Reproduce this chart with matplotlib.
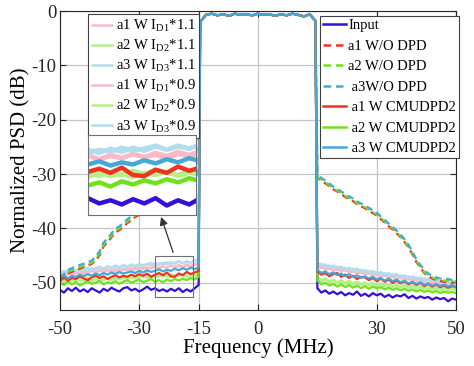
import matplotlib
matplotlib.use("Agg")
import matplotlib.pyplot as plt
from matplotlib.patches import Rectangle
from matplotlib.lines import Line2D
import numpy as np

plt.rcParams['font.family'] = ['Liberation Serif', 'DejaVu Serif']
plt.rcParams['mathtext.fontset'] = 'custom'
plt.rcParams['mathtext.rm'] = 'Liberation Serif'
plt.rcParams['mathtext.it'] = 'Liberation Serif'
plt.rcParams['axes.unicode_minus'] = False

# in-band (shared by all traces), dB
inband = [-2.0, -0.7, -0.5, -0.8, -0.6, -0.9, -0.5, -0.7, -0.6, -0.8,
          -0.5, -0.7, -0.6, -0.9, -0.6, -0.8, -0.5, -0.7, -1.0, -0.6, -1.8]

# left side, -50 ... -15 MHz (1 MHz steps)
input_l = [-51.3, -51.8, -51.0, -51.5, -50.9, -51.6, -51.2, -51.7, -51.0, -51.4,
           -51.8, -51.1, -51.5, -50.9, -51.3, -51.6, -51.0, -50.8, -51.4, -51.1,
           -51.6, -51.2, -50.7, -51.3, -51.0, -51.5, -51.2, -51.6, -51.1, -51.5,
           -51.0, -51.7, -51.2, -51.6, -51.0, -50.4]
a2_l = [-50.0, -50.4, -49.8, -50.3, -49.9, -50.5, -50.1, -49.7, -50.2, -50.0,
        -49.6, -50.3, -49.9, -50.1, -49.7, -50.2, -49.8, -49.5, -50.0, -49.7,
        -49.4, -49.9, -49.6, -49.3, -49.8, -49.5, -49.9, -49.4, -49.7, -49.3,
        -49.6, -49.2, -49.5, -49.1, -49.4, -48.9]
a2_11_l = [-49.5, -49.8, -49.2, -49.6, -49.3, -49.7, -49.4, -49.0, -49.5, -49.2,
           -49.6, -49.1, -49.4, -49.0, -49.3, -48.9, -49.2, -48.8, -49.1, -48.9,
           -48.6, -49.0, -48.7, -49.1, -48.6, -48.9, -48.5, -48.8, -48.4, -48.7,
           -48.3, -48.6, -48.8, -48.4, -48.6, -48.2]
a2_09_l = [-49.8, -49.4, -49.9, -49.5, -49.7, -49.2, -49.6, -49.3, -49.8, -49.4,
           -49.1, -49.5, -49.2, -49.6, -49.1, -49.4, -49.0, -49.3, -48.9, -49.2,
           -49.0, -48.7, -49.1, -48.8, -49.0, -48.6, -48.9, -48.7, -49.0, -48.6,
           -48.8, -48.5, -48.9, -48.6, -48.8, -48.4]
a1_l = [-49.4, -49.0, -49.6, -49.1, -49.3, -48.8, -49.2, -49.5, -49.0, -48.7,
        -49.1, -48.8, -49.3, -48.9, -48.6, -49.0, -48.7, -48.9, -48.5, -48.8,
        -48.4, -48.7, -48.3, -48.9, -48.5, -48.2, -48.6, -48.1, -48.8, -48.9,
        -48.3, -48.6, -48.0, -48.4, -48.1, -47.8]
a3_l = [-49.0, -48.6, -49.2, -48.7, -48.9, -48.5, -48.8, -48.4, -48.7, -48.3,
        -48.6, -48.2, -48.5, -48.1, -48.4, -48.0, -48.3, -48.1, -47.9, -48.2,
        -47.8, -48.1, -47.7, -48.0, -47.8, -47.5, -47.9, -47.6, -47.8, -47.4,
        -47.7, -47.3, -47.6, -47.2, -47.5, -47.1]
a1_11_l = [-48.3, -48.7, -48.1, -48.5, -48.0, -48.4, -47.9, -48.2, -47.8, -48.1,
           -47.7, -48.0, -47.6, -47.9, -47.5, -47.8, -47.4, -47.7, -47.3, -47.6,
           -47.2, -47.5, -47.1, -47.4, -47.0, -47.3, -46.9, -47.2, -46.8, -47.1,
           -46.7, -47.0, -46.6, -46.9, -46.5, -46.4]
a1_09_l = [-48.6, -48.2, -48.5, -48.0, -48.3, -47.9, -48.4, -48.0, -47.7, -48.1,
           -47.8, -47.5, -47.9, -47.6, -48.0, -47.5, -47.7, -47.3, -47.6, -47.2,
           -47.5, -47.1, -47.4, -47.2, -46.9, -47.3, -47.0, -47.2, -46.8, -47.1,
           -46.9, -47.2, -46.8, -47.0, -46.7, -46.5]
a3_11_l = [-47.9, -48.3, -47.7, -48.1, -47.6, -47.9, -47.4, -47.8, -47.3, -47.6,
           -47.2, -47.5, -47.1, -47.4, -47.0, -47.3, -46.9, -47.2, -46.8, -47.0,
           -46.7, -46.9, -46.5, -46.8, -46.4, -46.7, -46.3, -46.6, -46.2, -46.5,
           -46.1, -46.4, -46.0, -46.3, -45.9, -45.8]
a3_09_l = [-48.2, -47.8, -48.0, -47.5, -47.9, -47.4, -47.7, -47.2, -47.6, -47.3,
           -47.0, -47.4, -46.9, -47.2, -46.8, -47.1, -46.7, -47.0, -46.6, -46.9,
           -46.5, -46.8, -46.6, -46.3, -46.7, -46.4, -46.6, -46.2, -46.5, -46.3,
           -46.0, -46.4, -46.1, -46.3, -45.9, -45.9]
wo1_l = [-49.7, -49.0, -48.3, -48.0, -47.6, -47.4, -47.1, -46.9, -46.5, -45.9,
         -44.9, -43.3, -42.5, -41.6, -40.7, -40.3, -39.7, -39.0, -38.5, -37.9,
         -37.5, -37.0, -36.5, -36.0, -35.5, -35.0, -34.5, -34.1, -33.6, -33.1,
         -32.7, -32.2, -31.8, -31.4, -31.1, -30.7]
wo2_l = [-49.4, -48.8, -48.0, -47.7, -47.4, -47.1, -46.9, -46.6, -46.3, -45.6,
         -44.6, -43.0, -42.2, -41.3, -40.4, -40.0, -39.4, -38.7, -38.2, -37.6,
         -37.2, -36.7, -36.2, -35.7, -35.2, -34.7, -34.2, -33.8, -33.3, -32.8,
         -32.4, -31.9, -31.5, -31.1, -30.8, -30.4]
wo3_l = [-49.0, -48.4, -47.6, -47.3, -47.0, -46.7, -46.5, -46.2, -45.9, -45.2,
         -44.2, -42.6, -41.8, -40.9, -40.0, -39.6, -39.0, -38.3, -37.8, -37.2,
         -36.8, -36.3, -35.8, -35.3, -34.8, -34.3, -33.8, -33.4, -32.9, -32.4,
         -32.0, -31.5, -31.1, -30.7, -30.4, -30.1]

# right side, 15 ... 50 MHz (1 MHz steps)
input_r = [-51.0, -51.8, -51.4, -52.0, -51.6, -52.1, -51.7, -52.3, -51.9, -52.2,
           -51.6, -52.4, -52.0, -52.5, -51.9, -52.3, -52.0, -52.6, -52.2, -52.7,
           -52.3, -52.5, -52.1, -52.8, -52.4, -52.9, -52.5, -52.8, -52.6, -53.1,
           -52.7, -53.0, -52.8, -53.4, -52.9, -53.1]
a2_r = [-49.6, -50.3, -50.0, -50.5, -50.2, -50.7, -50.3, -50.8, -50.4, -50.9,
        -50.5, -51.0, -50.6, -51.1, -50.7, -51.0, -50.8, -51.2, -50.9, -51.3,
        -51.0, -51.4, -51.1, -51.5, -51.2, -51.6, -51.3, -51.7, -51.4, -51.8,
        -51.5, -51.9, -51.6, -51.8, -51.7, -51.9]
a2_11_r = [-49.0, -49.5, -49.2, -49.7, -49.4, -49.9, -49.5, -50.0, -49.6, -50.1,
           -49.8, -50.2, -49.9, -50.3, -50.0, -50.4, -50.1, -50.5, -50.2, -50.6,
           -50.3, -50.7, -50.4, -50.8, -50.5, -50.9, -50.6, -51.0, -50.7, -51.1,
           -50.8, -51.2, -50.9, -51.1, -51.0, -51.2]
a2_09_r = [-49.3, -49.8, -49.4, -49.9, -49.6, -50.1, -49.7, -50.2, -49.9, -50.3,
           -50.0, -50.4, -50.1, -50.5, -50.2, -50.6, -50.3, -50.7, -50.4, -50.8,
           -50.5, -50.9, -50.6, -51.0, -50.7, -51.1, -50.8, -51.2, -50.9, -51.3,
           -51.0, -51.4, -51.1, -51.3, -51.2, -51.4]
a1_r = [-47.9, -48.5, -48.2, -48.8, -48.4, -48.2, -48.9, -48.5, -49.1, -48.7,
        -49.3, -48.9, -49.0, -49.5, -49.1, -49.7, -49.2, -49.8, -49.4, -50.0,
        -49.6, -50.1, -49.7, -50.3, -49.9, -50.4, -50.0, -50.6, -50.2, -50.7,
        -50.3, -50.8, -50.5, -50.9, -50.6, -50.8]
a3_r = [-47.6, -48.2, -47.9, -48.4, -48.1, -48.6, -48.3, -48.8, -48.4, -48.9,
        -48.6, -49.1, -48.8, -49.2, -48.9, -49.4, -49.1, -49.6, -49.2, -49.7,
        -49.4, -49.9, -49.6, -50.1, -49.8, -50.2, -49.9, -50.4, -50.1, -50.5,
        -50.2, -50.6, -50.3, -50.7, -50.4, -50.8]
a1_11_r = [-46.8, -47.3, -47.0, -47.5, -47.2, -47.7, -47.3, -47.8, -47.5, -48.0,
           -47.7, -48.2, -47.9, -48.4, -48.1, -48.6, -48.3, -48.8, -48.5, -49.0,
           -48.7, -49.2, -48.9, -49.4, -49.1, -49.6, -49.3, -49.8, -49.5, -50.0,
           -49.7, -50.2, -49.9, -50.3, -50.1, -50.4]
a1_09_r = [-47.1, -47.0, -47.6, -47.3, -47.8, -47.4, -47.9, -47.6, -48.1, -47.8,
           -48.3, -48.0, -48.5, -48.2, -48.7, -48.4, -48.9, -48.6, -49.1, -48.8,
           -49.3, -49.0, -49.5, -49.2, -49.7, -49.4, -49.9, -49.6, -50.1, -49.8,
           -50.3, -50.0, -50.4, -50.2, -50.5, -50.5]
a3_11_r = [-46.3, -46.9, -46.6, -47.1, -46.8, -47.3, -47.0, -47.5, -47.2, -47.7,
           -47.4, -47.9, -47.6, -48.1, -47.8, -48.3, -48.0, -48.5, -48.2, -48.7,
           -48.4, -48.9, -48.6, -49.1, -48.8, -49.3, -49.0, -49.5, -49.2, -49.7,
           -49.4, -49.9, -49.6, -50.1, -49.9, -50.4]
a3_09_r = [-46.6, -46.5, -47.0, -46.8, -47.2, -47.0, -47.4, -47.2, -47.6, -47.4,
           -47.8, -47.6, -48.0, -47.8, -48.2, -48.0, -48.4, -48.2, -48.6, -48.4,
           -48.8, -48.6, -49.0, -48.8, -49.2, -49.0, -49.4, -49.2, -49.6, -49.4,
           -49.8, -49.6, -50.0, -49.9, -50.2, -50.3]
wo1_r = [-30.7, -31.2, -31.7, -32.2, -32.8, -33.2, -33.7, -34.2, -34.6, -35.0,
         -35.5, -35.9, -36.3, -36.7, -37.2, -37.6, -38.3, -38.9, -39.6, -40.2,
         -40.9, -41.6, -42.5, -43.5, -44.8, -46.2, -47.2, -48.2, -48.8, -49.2,
         -49.5, -49.7, -49.8, -49.8, -50.0, -49.9]
wo2_r = [-30.5, -31.0, -31.5, -32.0, -32.6, -33.0, -33.5, -34.0, -34.4, -34.8,
         -35.3, -35.7, -36.1, -36.5, -37.0, -37.4, -38.1, -38.7, -39.4, -40.0,
         -40.7, -41.4, -42.3, -43.3, -44.6, -46.0, -47.0, -48.0, -48.6, -49.0,
         -49.3, -49.5, -49.6, -49.6, -49.8, -49.7]
wo3_r = [-30.2, -30.7, -31.2, -31.7, -32.3, -32.7, -33.2, -33.7, -34.1, -34.5,
         -35.0, -35.4, -35.8, -36.2, -36.7, -37.1, -37.8, -38.4, -39.1, -39.7,
         -40.4, -41.1, -42.0, -43.0, -44.3, -45.7, -46.7, -47.7, -48.3, -48.7,
         -49.0, -49.2, -49.3, -49.3, -49.5, -49.4]

xticks = [-50, -30, -15, 0, 30, 50]
yticks = [0, -10, -20, -30, -40, -50]

legend_left = [r'a1 W I$_{\mathrm{D1}}$*1.1', r'a2 W I$_{\mathrm{D2}}$*1.1', r'a3 W I$_{\mathrm{D3}}$*1.1',
               r'a1 W I$_{\mathrm{D1}}$*0.9', r'a2 W I$_{\mathrm{D2}}$*0.9', r'a3 W I$_{\mathrm{D3}}$*0.9']
legend_right = ['Input', 'a1 W/O DPD', 'a2 W/O DPD', ' a3W/O DPD',
                ' a1 W CMUDPD2', ' a2 W CMUDPD2', ' a3 W CMUDPD2']

PINK = '#ffb9c6'
LGREEN = '#b4f08a'
LBLUE = '#b3dcec'
RED = '#f0321e'
GREEN = '#6ee21c'
BLUE = '#44a8d8'
INPUT = '#3510d8'


def spectrum(left, right):
    fl = np.linspace(-50, -15, len(left))
    fi = np.linspace(-14.6, 14.5, len(inband))
    fr = np.linspace(15, 50, len(right))
    return np.concatenate([fl, fi, fr]), np.concatenate([left, inband, right])


series = [
    (a1_11_l, a1_11_r, PINK, '-'),
    (a1_09_l, a1_09_r, PINK, '-'),
    (a2_11_l, a2_11_r, LGREEN, '-'),
    (a2_09_l, a2_09_r, LGREEN, '-'),
    (a3_11_l, a3_11_r, LBLUE, '-'),
    (a3_09_l, a3_09_r, LBLUE, '-'),
    (input_l, input_r, INPUT, '-'),
    (wo1_l, wo1_r, RED, '--'),
    (wo2_l, wo2_r, GREEN, '--'),
    (wo3_l, wo3_r, BLUE, '--'),
    (a2_l, a2_r, GREEN, '-'),
    (a1_l, a1_r, RED, '-'),
    (a3_l, a3_r, BLUE, '-'),
]

fig = plt.figure(figsize=(4.74, 3.66), dpi=100)
ax = fig.add_axes([60 / 474, 56 / 366, 396 / 474, 299 / 366])

for left, right, c, ls in series:
    f, p = spectrum(left, right)
    ax.plot(f, p, color=c, ls=ls, lw=1.6, dashes=(3, 2) if ls == '--' else (None, None))

ax.set_xlim(-50, 50)
ax.set_ylim(-55, 0)
ax.set_xticks(xticks)
ax.set_yticks(yticks)
ax.grid(True, color='#c4c4c4', lw=0.9)
ax.set_axisbelow(True)
ax.tick_params(direction='in', length=4, labelsize=13.5, top=True, right=True, colors='#262626')
ax.tick_params(axis='x', pad=8)
ax.tick_params(axis='y', pad=2.5)
for s in ax.spines.values():
    s.set_color('#262626')
    s.set_linewidth(0.8)
ax.set_xlabel('Frequency (MHz)', fontsize=15, labelpad=0)
ax.set_ylabel('Normalized PSD (dB)', fontsize=15, labelpad=1)

h_left = [Line2D([], [], color=c, lw=1.8) for c in [PINK, LGREEN, LBLUE, PINK, LGREEN, LBLUE]]
leg1 = ax.legend(h_left, legend_left, loc='upper left', bbox_to_anchor=(28 / 396, 1 - 3 / 299),
                 fontsize=10.5, labelspacing=0.28, handlelength=1.4, handletextpad=0.25,
                 borderpad=0.25, borderaxespad=0, fancybox=False, framealpha=1,
                 edgecolor='#404040')
leg1.get_frame().set_linewidth(0.8)
ax.add_artist(leg1)

h_right = [Line2D([], [], color=INPUT, lw=1.8),
           Line2D([], [], color=RED, lw=1.8, ls='--', dashes=(3, 2)),
           Line2D([], [], color=GREEN, lw=1.8, ls='--', dashes=(3, 2)),
           Line2D([], [], color=BLUE, lw=1.8, ls='--', dashes=(3, 2)),
           Line2D([], [], color=RED, lw=1.8),
           Line2D([], [], color=GREEN, lw=1.8),
           Line2D([], [], color=BLUE, lw=1.8)]
leg2 = ax.legend(h_right, legend_right, loc='upper left', bbox_to_anchor=(260 / 396, 1 - 5 / 299),
                 fontsize=10.5, labelspacing=0.5, handlelength=1.55, handletextpad=0.2,
                 borderpad=0.2, borderaxespad=0, fancybox=False, framealpha=1,
                 edgecolor='#404040')
leg2.get_frame().set_linewidth(0.8)

# zoom box and inset
zx0, zx1, zy0, zy1 = -26, -16.4, -52.6, -45
ax.add_patch(Rectangle((zx0, zy0), zx1 - zx0, zy1 - zy0, fill=False, ec='#707070', lw=0.8, zorder=5))
ins = fig.add_axes([88 / 474, (366 - 215) / 366, 108 / 474, 80 / 366])
for left, right, c, ls in series:
    if ls == '--':
        continue
    f, p = spectrum(left, right)
    ins.plot(f, p, color=c, lw=3.2)
ins.set_xlim(zx0, zx1)
ins.set_ylim(zy0, zy1)
ins.set_xticks([])
ins.set_yticks([])
for s in ins.spines.values():
    s.set_color('#707070')
    s.set_linewidth(0.8)
ax.annotate('', xy=(-24.7, -37.4), xytext=(-21.2, -44.9),
            arrowprops=dict(arrowstyle='-|>', color='#333333', lw=0.9, mutation_scale=12), zorder=6)

fig.savefig('out.png', dpi=100)
